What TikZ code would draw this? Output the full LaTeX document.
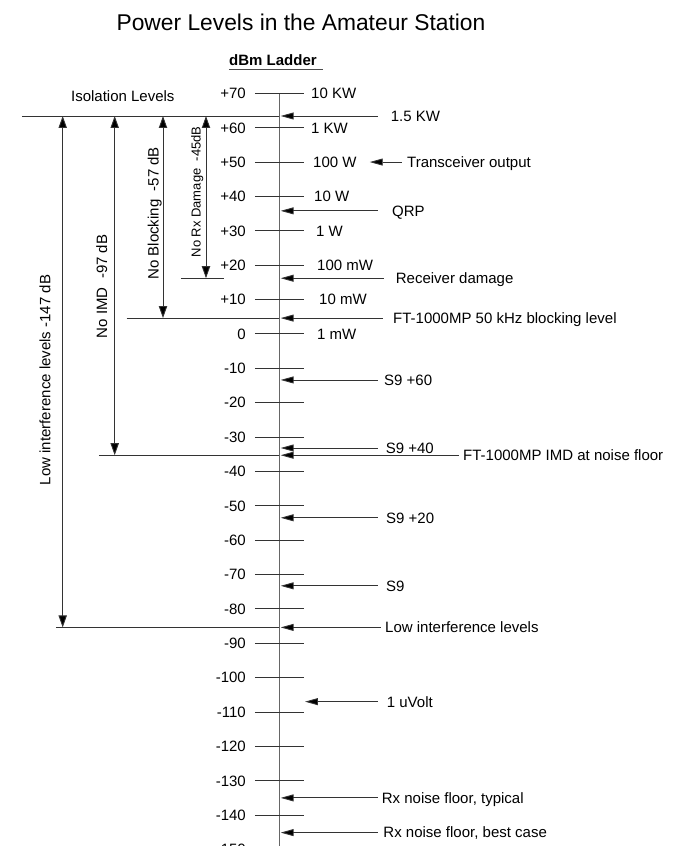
\documentclass[tikz,border=0pt]{standalone}
\usepackage{fontspec}
\setmainfont{Liberation Sans}
\usepackage{tikz}
\usetikzlibrary{arrows.meta, positioning, calc}
\tikzset{
  txt/.style={inner sep=0pt, text height=10.7pt, text depth=0pt, font=\fontsize{15}{18}\selectfont},
  num/.style={txt, anchor=east},
  note/.style={txt, anchor=west},
  rot/.style={txt, rotate=90},
  axisline/.style={line width=1pt, black!60},
  tickline/.style={line width=0.9pt, black!80},
  level/.style={line width=0.9pt, black!80},
  ruleline/.style={line width=0.9pt, black!70},
  ptr/.style={line width=0.9pt, black!80, -{Triangle[length=13pt, width=7pt, fill=black]}},
  span/.style={line width=0.9pt, black!80, {Triangle[length=12pt, width=8.3pt, fill=black]}-{Triangle[length=12pt, width=8.3pt, fill=black]}},
}
\begin{document}
\begin{tikzpicture}[x=1pt, y=3.437pt]
  \useasboundingbox (0,-149.0) rectangle (684,97.15);
  \clip (0,-149.0) rectangle (684,97.15);

  % headings
  \node[txt, font=\fontsize{22.8}{26}\selectfont, text height=16.4pt] (title) at (301,90.74) {Power Levels in the Amateur Station};
  \node[txt, font=\bfseries\fontsize{15}{18}\selectfont, anchor=south west] (ladder) at (229,77.94) {dBm Ladder};
  \draw[ruleline] ([yshift=-3pt]ladder.south west) -- ([xshift=6pt,yshift=-3pt]ladder.south east);
  \node[txt] (iso) at (122.8,69.3) {Isolation Levels};

  % the ladder
  \coordinate (top) at (279.3,70);
  \coordinate (bot) at (279.3,-152);
  \coordinate (hit) at (280.7,70);
  \draw[axisline] (top) -- (bot);
  \foreach \d in {70,60,...,-150} {
    \draw[tickline] (255,\d) -- (304,\d);
    \node[num] (t\d) at (246,\d) {\ifnum\d>0 +\fi\d};
  }

  \node[note] (kw10) at (311,70) {10 KW};
  \node[note] (kw1) at (311,60) {1 KW};
  \node[note] (w100) at (313,50) {100 W};
  \node[note] (w10) at (314,40) {10 W};
  \node[note] (w1) at (316,30) {1 W};
  \node[note] (mw100) at (317,20) {100 mW};
  \node[note] (mw10) at (319,10) {10 mW};
  \node[note] (mw1) at (317,0) {1 mW};

  % pointers
  \node[note] (kw15) at (390.7,63.4) {1.5 KW};
  \node[note] (xcvr) at (407,50) {Transceiver output};
  \node[note] (qrp) at (392,35.8) {QRP};
  \node[note] (dmg) at (395.7,16.2) {Receiver damage};
  \node[note] (blk) at (393,4.6) {FT-1000MP 50 kHz blocking level};
  \node[note] (s960) at (384,-13.4) {S9 +60};
  \node[note] (s940) at (385.6,-33.2) {S9 +40};
  \node[note] (imd) at (463,-35.3) {FT-1000MP IMD at noise floor};
  \node[note] (s920) at (386,-53.5) {S9 +20};
  \node[note] (s9) at (386,-73.3) {S9};
  \node[note] (low) at (385,-85.4) {Low interference levels};
  \node[note] (uv) at (386.7,-107) {1 uVolt};
  \node[note] (nft) at (381.7,-135) {Rx noise floor, typical};
  \node[note] (nfb) at (383.3,-145.1) {Rx noise floor, best case};

  \draw[ptr] ([xshift=-13pt]kw15.west) -- (kw15 -| hit);
  \draw[ptr] ([xshift=-5pt]xcvr.west) -- ([xshift=13pt]w100.east);
  \draw[ptr] ([xshift=-14pt]qrp.west) -- (qrp -| hit);
  \draw[ptr] ([xshift=-12pt]dmg.west) -- (dmg -| hit);
  \draw[ptr] ([xshift=-10pt]blk.west) -- (blk -| hit);
  \draw[ptr] ([xshift=-6pt]s960.west) -- (s960 -| hit);
  \draw[ptr] ([xshift=-8pt]s940.west) -- (s940 -| hit);
  \draw[ptr] ([xshift=-4pt]imd.west) -- (imd -| hit);
  \draw[ptr] ([xshift=-8pt]s920.west) -- (s920 -| hit);
  \draw[ptr] ([xshift=-8pt]s9.west) -- (s9 -| hit);
  \draw[ptr] ([xshift=-4.4pt]low.west) -- (low -| hit);
  \draw[ptr] ([xshift=-9pt]uv.west) -- ([xshift=25.7pt]uv -| top);
  \draw[ptr] ([xshift=-4pt]nft.west) -- (nft -| hit);
  \draw[ptr] ([xshift=-5.6pt]nfb.west) -- (nfb -| hit);

  % isolation levels
  \coordinate (isoL) at (22,63.4);
  \coordinate (blkL) at (126.7,4.6);
  \coordinate (imdL) at (99,-35.3);
  \coordinate (lowL) at (56,-85.4);
  \coordinate (dmgL) at (181,16.2);
  \draw[level] (isoL) -- (kw15 -| top);
  \draw[level] (blkL) -- (blk -| top);
  \draw[level] (imdL) -- (imd -| top);
  \draw[level] (lowL) -- (low -| top);
  \draw[level] (dmgL) -- ++(43,0);

  \coordinate (lowA) at (62.7,63.4);
  \coordinate (imdA) at (114.7,63.4);
  \coordinate (blkA) at (163,63.4);
  \coordinate (dmgA) at (206,63.4);
  \draw[span] (lowA) -- (lowA |- lowL);
  \draw[span] (imdA) -- (imdA |- imdL);
  \draw[span] (blkA) -- (blkA |- blkL);
  \draw[span] (dmgA) -- (dmgA |- dmgL);

  \node[rot] (lowT) at (45,-13.4) {Low interference levels -147 dB};
  \node[rot] (imdT) at (101.7,13.8) {No IMD\ \ -97 dB};
  \node[rot] (blkT) at (153.3,35.1) {No Blocking\ \ -57 dB};
  \node[rot, font=\fontsize{13}{15}\selectfont, text height=9.3pt] (dmgT) at (196,41.3) {No Rx Damage\ \ -45dB};
\end{tikzpicture}
\end{document}
